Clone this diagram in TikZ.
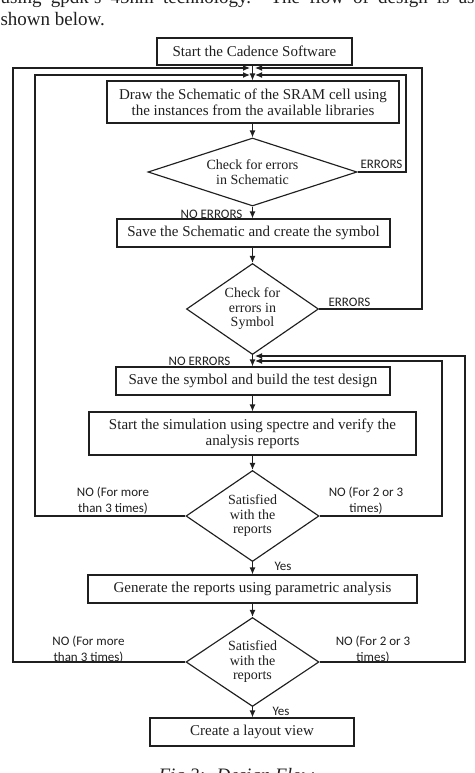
\documentclass[tikz,border=0pt]{standalone}
\usepackage{fontspec}
\setmainfont{Liberation Serif}
\newfontfamily\labfont{Carlito}
\usetikzlibrary{shapes.geometric,arrows.meta}
\begin{document}
\begin{tikzpicture}[x=1pt,y=-1pt,
  color=black!88, line width=1.15pt,
  box/.style={draw, rectangle, inner sep=0pt, align=center, font=\fontsize{15}{16}\selectfont},
  dia/.style={draw, diamond, inner sep=0pt, align=center, font=\fontsize{14}{14.5}\selectfont},
  lab/.style={font=\labfont\fontsize{13}{16}\selectfont, inner sep=0pt, align=center},
  body/.style={inner sep=0pt, anchor=base west, font=\fontsize{19}{22}\selectfont},
  arr/.style={-{Latex[length=7pt,width=6pt]}}]
\clip (0,0) rectangle (474,773);

% paragraph text
\node[body] (para1) at (0,4) {\makebox[474pt][s]{using gpdk's 45nm technology. The flow of design is as}};
\node[body] (para2) at (0,26) {shown below.};

% boxes
\node[box, minimum width=195pt, minimum height=27pt] (start) at (254.5,51.5) {Start the Cadence Software};
\node[box, minimum width=292pt, minimum height=42pt] (draw) at (253,102) {Draw the Schematic of the SRAM cell using\\the instances from the available libraries};
\node[dia, minimum width=209pt, minimum height=68pt, aspect=3.07] (d1) at (252.5,172) {Check for errors\\in Schematic};
\node[box, minimum width=273pt, minimum height=28pt] (saveschem) at (253.5,233) {Save the Schematic and create the symbol};
\node[dia, minimum width=132pt, minimum height=91pt, aspect=1.45] (d2) at (252.5,309) {Check for\\errors in\\Symbol};
\node[box, minimum width=274pt, minimum height=28pt] (savesym) at (253,381) {Save the symbol and build the test design};
\node[box, minimum width=327pt, minimum height=43pt] (sim) at (252.5,433.5) {Start the simulation using spectre and verify the\\analysis reports};
\node[dia, minimum width=133pt, minimum height=91pt, aspect=1.46] (d3) at (252.5,516) {Satisfied\\with the\\reports};
\node[box, minimum width=329pt, minimum height=28pt] (gen) at (252.5,589) {Generate the reports using parametric analysis};
\node[dia, minimum width=133pt, minimum height=89pt, aspect=1.49] (d4) at (252.5,662) {Satisfied\\with the\\reports};
\node[box, minimum width=204pt, minimum height=28pt] (layout) at (252,732) {Create a layout view};

% caption
\node[body, font=\itshape\fontsize{19}{22}\selectfont] (cap) at (158,781) {Fig 2:~ Design Flow};

% main spine
\draw[arr] (start.south -| d1.north) -- (draw.north -| d1.north);
\draw[arr] (draw.south -| d1.north) -- (d1.north);
\draw[arr] (d1.south) -- (saveschem.north -| d1.south);
\draw[arr] (saveschem.south -| d2.north) -- (d2.north);
\draw[arr] (d2.south) -- (savesym.north -| d2.south);
\draw[arr] (savesym.south -| d2.south) -- (sim.north -| d2.south);
\draw[arr] (sim.south -| d3.north) -- (d3.north);
\draw[arr] (d3.south) -- (gen.north -| d3.south);
\draw[arr] (gen.south -| d4.north) -- (d4.north);
\draw[arr] (d4.south) -- (layout.north -| d4.south);

% loop corners and joins
\coordinate (L1) at (13,68);
\coordinate (L2) at (35,75);
\coordinate (R1) at (406,75);
\coordinate (R2) at (422,68);
\coordinate (R3) at (442,361);
\coordinate (R4) at (465,356);
\coordinate (in1) at (250,68);
\coordinate (in2) at (255,68);
\coordinate (in3) at (250,75);
\coordinate (in4) at (255,75);
\coordinate (in5) at (255,356);
\coordinate (in6) at (255,361);

\draw[arr] (d4.west) -| (L1) -- (in1);
\draw[arr] (d3.west) -| (L2) -- (in3);
\draw[arr] (d1.east) -| (R1) -- (in4);
\draw[arr] (d2.east) -| (R2) -- (in2);
\draw[arr] (d3.east) -| (R3) -- (in6);
\draw[arr] (d4.east) -| (R4) -- (in5);

% labels
\node[lab, anchor=base west] (e1) at (360,168) {ERRORS};
\node[lab, anchor=base west] (e2) at (328,306) {ERRORS};
\node[lab, anchor=base east] (ne1) at (243,218) {NO ERRORS};
\node[lab, anchor=base east] (ne2) at (231,365) {NO ERRORS};
\node[lab] (n3l) at (113,501) {NO (For more\\than 3 times)};
\node[lab] (n3r) at (366,501) {NO (For 2 or 3\\times)};
\node[lab] (n4l) at (88.5,650) {NO (For more\\than 3 times)};
\node[lab] (n4r) at (373,650) {NO (For 2 or 3\\times)};
\node[lab, anchor=west] (y3) at (274,566) {Yes};
\node[lab, anchor=west] (y4) at (272,711) {Yes};
\end{tikzpicture}
\end{document}
